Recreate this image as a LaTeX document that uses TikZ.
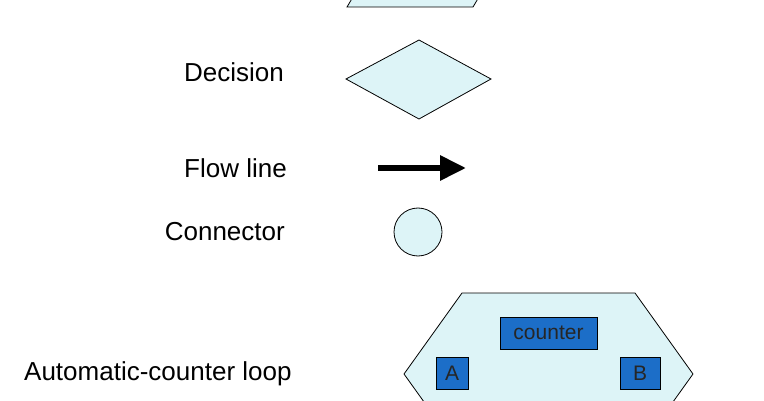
\documentclass[tikz,border=0pt]{standalone}
\usetikzlibrary{arrows.meta}
\usepackage{fontspec}
\setmainfont{Liberation Sans}
\definecolor{shapefill}{RGB}{221,244,247}
\definecolor{boxblue}{RGB}{28,110,200}
\begin{document}
\begin{tikzpicture}[x=1pt,y=-1pt,
  lbl/.style={font=\fontsize{26}{28}\selectfont,inner sep=0,anchor=east},
  shp/.style={draw=black,fill=shapefill,line width=0.8pt},
  bbox/.style={draw=black,fill=boxblue,line width=0.8pt,inner sep=0,font=\fontsize{21}{22}\selectfont,text=black!85}]
\useasboundingbox (0,0) rectangle (764,401);
\begin{scope}
\clip (0,0) rectangle (764,401);
\draw[shp] (347,7) -- (473,7) -- (495,-30) -- (369,-30) -- cycle;
\draw[shp] (404,374) -- (462,293) -- (635,293) -- (693,374) -- (635,455) -- (462,455) -- cycle;
\end{scope}
\draw[shp] (346,79) -- (419,40) -- (491,79) -- (419,119) -- cycle;
\node[lbl] (dec) at (284,72) {Decision};
\node[lbl] (flow) at (287,168) {Flow line};
\coordinate (fa) at (378,168);
\coordinate (fb) at (466,168);
\draw[line width=6pt,-{Triangle[length=26pt,width=24pt]}] (fa) -- (fb);
\node[lbl] (con) at (285,232) {Connector};
\node[circle,shp,minimum size=48pt,inner sep=0] (circ) at (418,232) {};
\node[lbl,anchor=west] (loop) at (24,374) {Automatic-counter loop};
\node[bbox,minimum width=97pt,minimum height=32pt] (ctr) at (548.5,333) {counter};
\node[bbox,minimum width=32pt,minimum height=32pt] (a) at (452,373) {A};
\node[bbox,minimum width=40pt,minimum height=32pt] (b) at (640,373) {B};
\end{tikzpicture}
\end{document}
